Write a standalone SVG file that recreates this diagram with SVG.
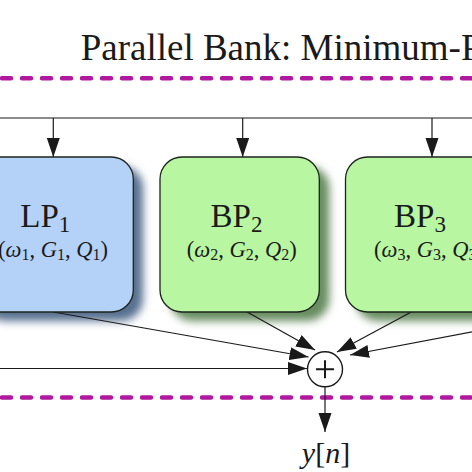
<svg xmlns="http://www.w3.org/2000/svg" width="472" height="472" viewBox="0 0 472 472">
  <style>
    text { font-family: "Liberation Serif", "DejaVu Serif", serif; fill: #1a1a1a; }
    .title { font-size: 37px; }
    .lbl { font-size: 33px; }
    .par { font-size: 22.5px; }
    .it { font-style: italic; }
    .lsub { font-size: 23px; }
    .sub { font-size: 16px; }
    .box { stroke: #1c241c; stroke-width: 1.3; }
    .lp { fill: #b4d2f8; }
    .bp { fill: #b8f6a2; }
    .lpsh { fill: #56708f; }
    .bpsh { fill: #678c60; }
    .dash { stroke: #b0199d; stroke-width: 4.5; stroke-dasharray: 9 11; stroke-linecap: round; fill: none; }
    .wire { stroke: #1a1a1a; stroke-width: 1.2; fill: none; }
  </style>
  <defs>
    <marker id="ah" markerUnits="userSpaceOnUse" markerWidth="20" markerHeight="14" refX="19" refY="6.5" orient="auto">
      <path d="M0,0 L19,6.5 L0,13 Z" fill="#1a1a1a"/>
    </marker>
    <filter id="blur" x="-20%" y="-20%" width="140%" height="140%">
      <feGaussianBlur stdDeviation="4"/>
    </filter>
  </defs>

  <rect width="472" height="472" fill="#ffffff"/>

  <text class="title" x="80.7" y="60">Parallel Bank: Minimum-Phase</text>

  <line class="dash" x1="2" y1="78.3" x2="480" y2="78.3"/>
  <line class="dash" x1="2" y1="397.5" x2="480" y2="397.5"/>

  <g id="shadows">
    <rect class="lpsh" x="-17" y="166" width="160" height="155" rx="22" filter="url(#blur)"/>
    <rect class="bpsh" x="170" y="166" width="159.3" height="155" rx="22" filter="url(#blur)"/>
    <rect class="bpsh" x="355.5" y="166" width="160" height="155" rx="22" filter="url(#blur)"/>
  </g>

  <g id="connectors">
    <line class="wire" x1="-5" y1="118" x2="480" y2="118"/>
    <line class="wire" x1="53.3" y1="118" x2="53.3" y2="157" marker-end="url(#ah)"/>
    <line class="wire" x1="242.7" y1="118" x2="242.7" y2="157" marker-end="url(#ah)"/>
    <line class="wire" x1="432" y1="118" x2="432" y2="157" marker-end="url(#ah)"/>
    <line class="wire" x1="-5" y1="368.5" x2="307" y2="368.5" marker-end="url(#ah)"/>
    <line class="wire" x1="53.3" y1="312" x2="308.5" y2="357" marker-end="url(#ah)"/>
    <line class="wire" x1="246.7" y1="311.7" x2="315" y2="350" marker-end="url(#ah)"/>
    <line class="wire" x1="411.7" y1="311.7" x2="337" y2="352" marker-end="url(#ah)"/>
    <line class="wire" x1="480" y1="330.3" x2="350" y2="355" marker-end="url(#ah)"/>
    <line class="wire" x1="325" y1="387" x2="325" y2="432" marker-end="url(#ah)"/>
  </g>

  <g id="lp1">
    <rect class="box lp" x="-27" y="157" width="160.3" height="155" rx="22"/>
    <text class="lbl" x="45.3" y="227" text-anchor="middle">LP<tspan class="lsub" dy="5">1</tspan></text>
    <text class="par" x="53" y="257" text-anchor="middle">(<tspan class="it">ω</tspan><tspan class="sub" dy="3">1</tspan><tspan dy="-3">, </tspan><tspan class="it">G</tspan><tspan class="sub" dy="3">1</tspan><tspan dy="-3">, </tspan><tspan class="it">Q</tspan><tspan class="sub" dy="3">1</tspan><tspan dy="-3">)</tspan></text>
  </g>

  <g id="bp2">
    <rect class="box bp" x="160" y="157" width="159.3" height="155" rx="22"/>
    <text class="lbl" x="236.5" y="227" text-anchor="middle">BP<tspan class="lsub" dy="5">2</tspan></text>
    <text class="par" x="241.8" y="257" text-anchor="middle">(<tspan class="it">ω</tspan><tspan class="sub" dy="3">2</tspan><tspan dy="-3">, </tspan><tspan class="it">G</tspan><tspan class="sub" dy="3">2</tspan><tspan dy="-3">, </tspan><tspan class="it">Q</tspan><tspan class="sub" dy="3">2</tspan><tspan dy="-3">)</tspan></text>
  </g>

  <g id="bp3">
    <rect class="box bp" x="345.5" y="157" width="160" height="155" rx="22"/>
    <text class="lbl" x="420" y="227" text-anchor="middle">BP<tspan class="lsub" dy="5">3</tspan></text>
    <text class="par" x="429" y="257" text-anchor="middle">(<tspan class="it">ω</tspan><tspan class="sub" dy="3">3</tspan><tspan dy="-3">, </tspan><tspan class="it">G</tspan><tspan class="sub" dy="3">3</tspan><tspan dy="-3">, </tspan><tspan class="it">Q</tspan><tspan class="sub" dy="3">3</tspan><tspan dy="-3">)</tspan></text>
  </g>

  <g id="sum">
    <circle cx="325" cy="369.3" r="17.5" fill="#ffffff" stroke="#1a1a1a" stroke-width="1.4"/>
    <path d="M316,369.3 H334 M325,360.3 V378.3" stroke="#1a1a1a" stroke-width="2" fill="none"/>
  </g>

  <g id="output">
    <text x="326" y="463" text-anchor="middle" font-size="30"><tspan class="it">y</tspan>[<tspan class="it">n</tspan>]</text>
  </g>
</svg>
